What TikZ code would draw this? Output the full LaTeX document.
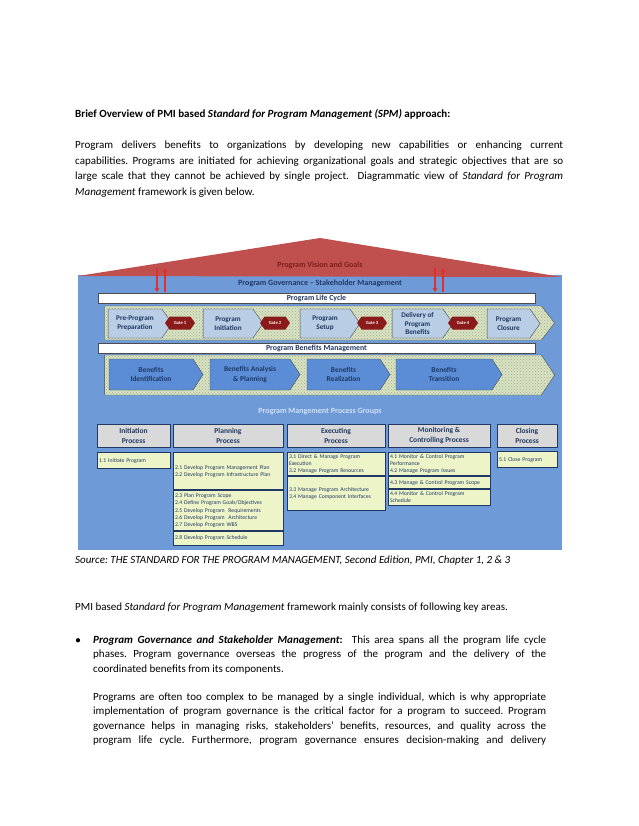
\documentclass[tikz,border=0pt]{standalone}
\usepackage{fontspec}
\setmainfont{Carlito}
\usepackage{tikz}
\usetikzlibrary{shapes.symbols, shapes.geometric, arrows.meta, positioning, patterns}
\definecolor{roofred}{HTML}{C0504D}
\definecolor{visionred}{HTML}{7A1F1C}
\definecolor{navy}{HTML}{1F3864}
\definecolor{mainblue}{HTML}{6F9AD8}
\definecolor{bandgreen}{HTML}{D7E4BD}
\definecolor{phaseblue}{HTML}{B9CDE5}
\definecolor{gatered}{HTML}{8B1A1A}
\definecolor{benefitblue}{HTML}{5B8DD6}
\definecolor{headgray}{HTML}{D9D9D9}
\definecolor{procgreen}{HTML}{EDF4C8}
\definecolor{groupblue}{HTML}{D3E2F6}
\definecolor{arrowred}{HTML}{E0302E}
\tikzstyle{bar} = [draw=black!70, fill=white, minimum width=437pt, minimum height=10pt, inner sep=0pt, text=navy, font=\fontsize{7.8}{8}\selectfont\bfseries]
\tikzstyle{arrow} = [arrowred, line width=1.2pt, -{Triangle[length=4pt, width=4.5pt]}]
\frenchspacing

\begin{document}
\begin{tikzpicture}[x=1pt, y=-1pt,
  phase/.style={signal, signal to=east, signal pointer angle=110, draw=black!70, fill=phaseblue, minimum height=29pt, inner sep=0pt, align=center, text=navy, font=\fontsize{7.2}{8.6}\selectfont\bfseries},
  gate/.style={signal, signal to=west and east, signal pointer angle=110, fill=gatered, minimum width=30pt, minimum height=13pt, inner sep=0pt, text=white, font=\fontsize{4.6}{5}\selectfont\bfseries},
  benefit/.style={signal, signal to=east, signal pointer angle=114, draw=black!70, fill=benefitblue, minimum height=31pt, inner sep=0pt, align=center, text=navy, font=\fontsize{7.4}{9.5}\selectfont\bfseries},
  band/.style={signal, signal to=east, draw=black!70, preaction={fill=bandgreen}, pattern=crosshatch dots, pattern color=black!35, minimum width=450pt, inner sep=0pt},
  header/.style={draw=navy, line width=0.8pt, fill=headgray, minimum height=23pt, inner sep=0pt, align=center, text=navy, font=\fontsize{7.5}{10}\selectfont\bfseries},
  proc/.style={draw=navy, line width=0.8pt, fill=procgreen, inner xsep=2pt, inner ysep=0pt, align=left, text=navy, font=\fontsize{5.7}{7.2}\selectfont},
  body/.style={inner sep=0pt, font=\fontsize{11}{15.7}\selectfont, align=justify}
]
\fill[white] (0,0) rectangle (638,826);
\useasboundingbox (0,0) rectangle (638,826);

% page text above the figure
\node[anchor=west, inner sep=0pt, font=\fontsize{11}{13}\selectfont\bfseries] (title) at (75,114)
  {Brief Overview of PMI based \textit{Standard for Program Management (SPM)} approach:};
\node[body, anchor=north west, text width=488pt] (intro) at (75,140.5)
  {Program delivers benefits to organizations by developing new capabilities or enhancing current\linebreak
   capabilities. Programs are initiated for achieving organizational goals and strategic objectives that are so\linebreak
   large scale that they cannot be achieved by single project.\ \ Diagrammatic view of \textit{Standard for Program}\linebreak
   \textit{Management} framework is given below.};

% house
\fill[mainblue] (78,275) rectangle (562,550);
\fill[roofred] (78,276) -- (320,238) -- (562,277) -- cycle;
\node[text=visionred, font=\fontsize{8}{9}\selectfont\bfseries] (vision) at (320,265) {Program Vision and Goals};
\node[text=navy, font=\fontsize{8}{9}\selectfont\bfseries] (gov) at (320,283) {Program Governance -- Stakeholder Management};
\coordinate (va) at (157,268); \coordinate (vb) at (157,292);
\coordinate (vc) at (165,292); \coordinate (vd) at (165,268);
\coordinate (ve) at (435,268); \coordinate (vf) at (435,292);
\coordinate (vg) at (443,292); \coordinate (vh) at (443,268);
\draw[arrow] (va) -- (vb); \draw[arrow] (vc) -- (vd);
\draw[arrow] (ve) -- (vf); \draw[arrow] (vg) -- (vh);

% life cycle
\node[bar] (lifecycle) at (316.5,298) {Program Life Cycle};
\node[band, minimum height=34pt, signal pointer angle=105] (lcband) at (323,323) {};
\node[phase, minimum width=64pt] (pre) at (135,323.5) {Pre-Program\\Preparation};
\node[phase, minimum width=60pt] (init) at (228,323.5) {Program\\Initiation};
\node[phase, minimum width=60pt] (setup) at (325,323.5) {Program\\Setup};
\node[phase, minimum width=61pt] (deliv) at (417.5,323.5) {Delivery of\\Program\\Benefits};
\node[phase, minimum width=53pt] (closure) at (508.5,323.5) {Program\\Closure};
\node[gate] (g1) at (180,323) {Gate 1};
\node[gate] (g2) at (275,323) {Gate 2};
\node[gate] (g3) at (372,323) {Gate 3};
\node[gate] (g4) at (463,323) {Gate 4};

% benefits management
\node[bar] (benmgmt) at (316.5,348) {Program Benefits Management};
\node[band, minimum height=40pt, signal pointer angle=113] (bnband) at (323,375) {};
\node[benefit, minimum width=94pt] (bident) at (151,374.5) {Benefits\\Identification};
\node[benefit, minimum width=90pt] (banal) at (250,374.5) {Benefits Analysis\\\& Planning};
\node[benefit, minimum width=83pt] (breal) at (343.5,374.5) {Benefits\\Realization};
\node[benefit, minimum width=106pt] (btrans) at (444,374.5) {Benefits\\Transition};

% process groups
\node[text=groupblue, font=\fontsize{8}{9}\selectfont\bfseries] (groups) at (320,412) {Program Mangement Process Groups};
\node[header, minimum width=73pt] (hinit) at (133.5,435.5) {Initiation\\Process};
\node[header, minimum width=110pt] (hplan) at (228,435.5) {Planning\\Process};
\node[header, minimum width=98pt] (hexec) at (336,435.5) {Executing\\Process};
\node[header, minimum width=102pt] (hmon) at (439,435.5) {Monitoring \&\\Controlling Process};
\node[header, minimum width=60pt] (hclose) at (527,435.5) {Closing\\Process};

\node[proc, text width=69pt, minimum height=16pt, below=5pt of hinit] (i1) {1.1 Initiate Program};

\node[proc, text width=106pt, minimum height=37pt, below=5pt of hplan] (p1)
  {2.1 Develop Program Management Plan\\2.2 Develop Program Infrastructure Plan};
\node[proc, text width=106pt, minimum height=40pt, below=0pt of p1] (p2)
  {2.3 Plan Program Scope\\2.4 Define Program Goals/Objectives\\2.5 Develop Program\ \ Requirements\\2.6 Develop Program\ \ Architecture\\2.7 Develop Program WBS};
\node[proc, text width=106pt, minimum height=14pt, below=0pt of p2] (p3) {2.8 Develop Program Schedule};

\node[proc, text width=94pt, minimum height=23pt, below=5pt of hexec] (e1)
  {3.1 Direct \& Manage Program\\Execution\\3.2 Manage Program Resources};
\node[proc, text width=94pt, minimum height=34pt, below=0pt of e1] (e2)
  {3.3 Manage Program Architecture\\3.4 Manage Component Interfaces};

\node[proc, text width=98pt, minimum height=23pt, below=5pt of hmon] (m1)
  {4.1 Monitor \& Control Program\\Performance\\4.2 Manage Program Issues};
\node[proc, text width=98pt, minimum height=12pt, below=0pt of m1] (m2) {4.3 Manage \& Control Program Scope};
\node[proc, text width=98pt, minimum height=16pt, below=0pt of m2] (m3)
  {4.4 Monitor \& Control Program\\Schedule};

\node[proc, text width=56pt, minimum height=16pt, below=4pt of hclose] (c1) {5.1 Close Program};

% page text below the figure
\node[anchor=west, inner sep=0pt, font=\fontsize{11}{13}\selectfont\itshape] (source) at (75,561)
  {Source: THE STANDARD FOR THE PROGRAM MANAGEMENT, Second Edition, PMI, Chapter 1, 2 \& 3};
\node[anchor=west, inner sep=0pt, font=\fontsize{11}{13}\selectfont] (keyareas) at (75,608)
  {PMI based \textit{Standard for Program Management} framework mainly consists of following key areas.};
\node[anchor=center, inner sep=0pt, font=\fontsize{11}{13}\selectfont] (bullet) at (78,641) {$\bullet$};
\node[body, anchor=north west, text width=453pt, font=\fontsize{11}{14.5}\selectfont] (govpara) at (93,635.5)
  {\textbf{\textit{Program Governance and Stakeholder Management}:}\ \ This area spans all the program life cycle\linebreak
   phases. Program governance overseas the progress of the program and the delivery of the\linebreak
   coordinated benefits from its components.};
\node[body, anchor=north west, text width=453pt, font=\fontsize{11}{14.4}\selectfont] (complexpara) at (93,692.5)
  {Programs are often too complex to be managed by a single individual, which is why appropriate\linebreak
   implementation of program governance is the critical factor for a program to succeed. Program\linebreak
   governance helps in managing risks, stakeholders' benefits, resources, and quality across the\linebreak
   program life cycle. Furthermore, program governance ensures decision-making and delivery\linebreak};
\end{tikzpicture}
\end{document}
